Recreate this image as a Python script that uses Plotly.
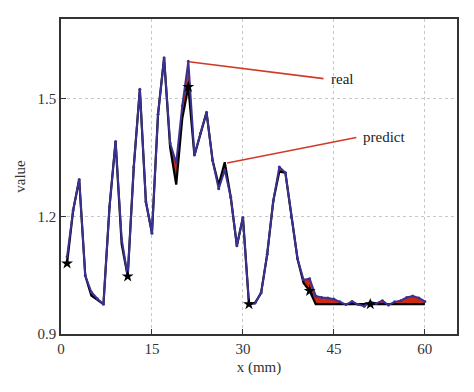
import plotly.graph_objects as go

x_mm = list(range(1, 61))
real = [1.097, 1.215, 1.294, 1.049, 1.007, 0.990, 0.976, 1.224, 1.391, 1.143,
        1.047, 1.326, 1.524, 1.237, 1.157, 1.460, 1.604, 1.387, 1.336, 1.482,
        1.595, 1.356, 1.412, 1.465, 1.342, 1.270, 1.318, 1.248, 1.125, 1.197,
        0.976, 0.979, 1.005, 1.103, 1.239, 1.326, 1.311, 1.197, 1.092, 1.038,
        1.041, 0.997, 0.993, 0.992, 0.989, 0.982, 0.975, 0.983, 0.975, 0.971,
        0.982, 0.978, 0.985, 0.974, 0.982, 0.985, 0.993, 0.997, 0.992, 0.983]
predict = [1.080, 1.215, 1.294, 1.049, 0.998, 0.986, 0.976, 1.224, 1.391, 1.130,
           1.047, 1.326, 1.524, 1.237, 1.157, 1.460, 1.604, 1.375, 1.281, 1.450,
           1.530, 1.355, 1.412, 1.465, 1.342, 1.280, 1.338, 1.248, 1.125, 1.197,
           0.976, 0.979, 1.005, 1.103, 1.239, 1.314, 1.311, 1.197, 1.092, 1.030,
           1.010, 0.976, 0.976, 0.976, 0.976, 0.976, 0.976, 0.976, 0.976, 0.976,
           0.976, 0.976, 0.976, 0.976, 0.976, 0.976, 0.976, 0.976, 0.976, 0.976]
star_idx = [0, 10, 20, 30, 40, 50]
star_x = [x_mm[i] for i in star_idx]
star_y = [predict[i] for i in star_idx]

x_ticks = [0, 15, 30, 45, 60]
y_ticks = [0.9, 1.2, 1.5]
y_tick_text = ["0.9", "1.2", "1.5"]

BLUE = "#3a3290"
RED = "#cc2a14"
FONT = "Liberation Serif"

fig = go.Figure()
fig.add_trace(go.Scatter(x=x_mm, y=predict, mode="lines", line=dict(width=0),
                         showlegend=False, hoverinfo="skip"))
fig.add_trace(go.Scatter(x=x_mm, y=real, mode="lines", line=dict(width=0),
                         fill="tonexty", fillcolor=RED, showlegend=False, hoverinfo="skip"))
fig.add_trace(go.Scatter(x=x_mm, y=predict, mode="lines", name="predict",
                         line=dict(color="black", width=2.2), showlegend=False))
fig.add_trace(go.Scatter(x=x_mm, y=real, mode="lines+markers", name="real",
                         line=dict(color=BLUE, width=2),
                         marker=dict(color=BLUE, size=3), showlegend=False))
fig.add_trace(go.Scatter(x=star_x, y=star_y, mode="markers", showlegend=False,
                         marker=dict(symbol="star", color="black", size=9)))

# annotation leader lines
fig.add_shape(type="line", x0=21.1, y0=1.594, x1=43.3, y1=1.551,
              line=dict(color="#d23a28", width=1.6))
fig.add_shape(type="line", x0=27.4, y0=1.336, x1=48.7, y1=1.401,
              line=dict(color="#d23a28", width=1.6))
fig.add_annotation(x=44.2, y=1.551, text="real", showarrow=False, xanchor="left",
                   font=dict(family=FONT, size=15, color="#222"))
fig.add_annotation(x=49.5, y=1.403, text="predict", showarrow=False, xanchor="left",
                   font=dict(family=FONT, size=15, color="#222"))

fig.update_layout(
    width=466, height=384,
    margin=dict(l=53, r=17, t=9, b=58),
    plot_bgcolor="white", paper_bgcolor="white",
    font=dict(family=FONT, size=15, color="#333"),
)
fig.update_xaxes(range=[0, 65.3], tickvals=x_ticks, ticks="inside", ticklen=5,
                 tickcolor="#333", showline=True, linecolor="#333", linewidth=1.5,
                 mirror=True, showgrid=True, gridcolor="#c8c8c8", griddash="dot",
                 gridwidth=1, zeroline=False,
                 title=dict(text="x (mm)", standoff=6, font=dict(size=15)))
fig.update_yaxes(range=[0.9, 1.703], tickvals=y_ticks, ticktext=y_tick_text,
                 ticks="inside", ticklen=5, tickcolor="#333", showline=True,
                 linecolor="#333", linewidth=1.5, mirror=True, showgrid=True,
                 gridcolor="#c8c8c8", griddash="dot", gridwidth=1, zeroline=False,
                 title=dict(text="value", standoff=8, font=dict(size=15)))

fig.write_html("out.html")
